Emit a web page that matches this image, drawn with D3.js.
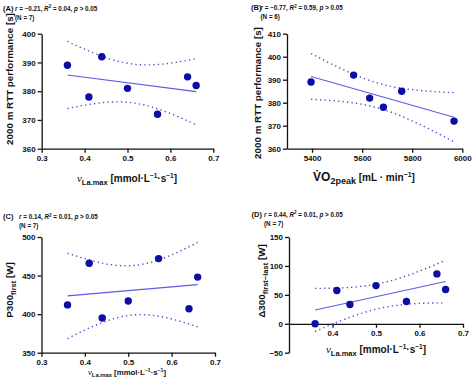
<!DOCTYPE html>
<html><head><meta charset="utf-8">
<script src="https://cdn.jsdelivr.net/npm/d3@7"></script>
<style>
html,body{margin:0;padding:0;background:#fff;}
svg{display:block;font-family:"Liberation Sans",Arial,sans-serif;}
</style></head>
<body>
<script>
// ---- data ----
const vLaMax   = [0.36, 0.41, 0.44, 0.50, 0.57, 0.64, 0.66];
const rttA     = [389, 378, 392, 381, 372, 385, 382];
const vo2peak  = [5396, 5566, 5630, 5685, 5758, 5967];
const rttB     = [389, 392, 382, 378, 385, 372];
const p300first = [412, 466, 395, 417, 472, 407, 448];
const delta300 = [0, 57.6, 33.3, 66, 38.5, 86.2, 59.2];

const vTicks    = [0.3, 0.4, 0.5, 0.6, 0.7];
const vTicksD   = [0.4, 0.5, 0.6, 0.7];
const vo2Ticks  = [5400, 5600, 5800, 6000];
const rttTicksA = [360, 370, 380, 390, 400];
const rttTicksB = [360, 370, 380, 390, 400, 410];
const p300Ticks = [350, 400, 450, 500];
const deltaTicks = [-50, 0, 50, 100, 150];

const statsA = ["(A)", "−0.21", "0.04", "(N = 7)"];
const statsB = ["(B)", "−0.77", "0.59", "(N = 6)"];
const statsC = ["(C)", "0.14", "0.01", "(N = 7)"];
const statsD = ["(D)", "0.44", "0.01", "(N = 7)"];

// t critical values (95%, two-sided) for df = n-2
const tCrit = {4: 2.776, 5: 2.571};

const W = 474, H = 379;
const svg = d3.select("body").append("svg").attr("width", W).attr("height", H);

const markerColor = "#0c0ca6", lineColor = "#5b5bea", bandColor = "#4b4bc6";

function panel(cfg) {
  const g = svg.append("g");
  const x = d3.scaleLinear().domain(cfg.xDomain).range(cfg.xRange);
  const y = d3.scaleLinear().domain(cfg.yDomain).range(cfg.yRange);
  const xAxisY = cfg.xAxisAt != null ? y(cfg.xAxisAt) : cfg.yRange[0];

  const xa = g.append("g").attr("transform", `translate(0,${xAxisY})`)
    .call(d3.axisBottom(x).tickValues(cfg.xTicks).tickSize(4).tickSizeOuter(0).tickPadding(3)
      .tickFormat(d3.format(cfg.xFmt)));
  const ya = g.append("g").attr("transform", `translate(${cfg.xRange[0]},0)`)
    .call(d3.axisLeft(y).tickValues(cfg.yTicks).tickSize(4).tickSizeOuter(0).tickPadding(2));
  [xa, ya].forEach(a => {
    a.selectAll("path,line").attr("stroke", "#111").attr("stroke-width", 1.3);
    a.selectAll("text").attr("font-size", 8).attr("font-weight", "bold").attr("fill", "#111")
      .attr("font-family", "'Liberation Sans',Arial,sans-serif");
  });

  // regression + 95% CI
  const xs = cfg.xs, ys = cfg.ys, n = xs.length;
  const mx = d3.mean(xs), my = d3.mean(ys);
  const Sxx = d3.sum(xs, v => (v - mx) ** 2);
  const Sxy = d3.sum(xs, (v, i) => (v - mx) * (ys[i] - my));
  const b = Sxy / Sxx, a = my - b * mx;
  const sse = d3.sum(xs, (v, i) => (ys[i] - a - b * v) ** 2);
  const s = Math.sqrt(sse / (n - 2));
  const t = tCrit[n - 2];
  const xmin = d3.min(xs), xmax = d3.max(xs);
  const samples = d3.range(41).map(i => xmin + (xmax - xmin) * i / 40);
  const half = v => t * s * Math.sqrt(1 / n + (v - mx) ** 2 / Sxx);

  const band = sgn => d3.line().x(v => x(v)).y(v => y(a + b * v + sgn * half(v)))(samples);
  [1, -1].forEach(sgn => g.append("path").attr("d", band(sgn)).attr("fill", "none")
    .attr("stroke", bandColor).attr("stroke-width", 1.4).attr("stroke-dasharray", "1.3,3.2"));

  g.append("line").attr("x1", x(xmin)).attr("x2", x(xmax))
    .attr("y1", y(a + b * xmin)).attr("y2", y(a + b * xmax))
    .attr("stroke", lineColor).attr("stroke-width", 1.1);

  g.selectAll("circle.pt").data(xs).join("circle").attr("class", "pt")
    .attr("cx", d => x(d)).attr("cy", (d, i) => y(ys[i])).attr("r", 3.7)
    .attr("fill", markerColor);

  // header
  const st = cfg.stats;
  g.append("text").attr("x", cfg.hx).attr("y", cfg.hy).attr("font-size", 7.5)
    .attr("font-weight", "bold").attr("fill", "#111").text(st[0]);
  const h = g.append("text").attr("x", cfg.hx2).attr("y", cfg.hy).attr("font-size", 6.3)
    .attr("font-weight", "bold").attr("fill", "#111");
  h.append("tspan").attr("font-style", "italic").text("r");
  h.append("tspan").text(" = " + st[1] + ", ");
  h.append("tspan").attr("font-style", "italic").text("R");
  h.append("tspan").attr("font-size", 4.5).attr("dy", -2.5).text("2");
  h.append("tspan").attr("dy", 2.5).text(" = " + st[2] + ", ");
  h.append("tspan").attr("font-style", "italic").text("p");
  h.append("tspan").text(" > 0.05");
  g.append("text").attr("x", cfg.hx2).attr("y", cfg.hy + 9).attr("font-size", 6.3)
    .attr("font-weight", "bold").attr("fill", "#111").text(st[3]);

  // y title
  const yt = g.append("text").attr("transform", `translate(${cfg.ytx},${cfg.yty}) rotate(-90)`)
    .attr("text-anchor", "middle").attr("font-size", cfg.ytSize).attr("font-weight", "bold").attr("fill", "#111");
  cfg.yTitle(yt);
  // x title
  const k = cfg.xtScale || 1;
  const xt = g.append("text").attr("x", cfg.xtx).attr("y", cfg.xty)
    .attr("text-anchor", "middle").attr("font-size", 10 * k).attr("font-weight", "bold").attr("fill", "#111");
  cfg.xTitle(xt, k);
}

function vTitle(t, k) {
  t.append("tspan").attr("font-family", "'Liberation Serif','Times New Roman',serif")
    .attr("font-style", "italic").attr("font-weight", "normal").attr("font-size", 11 * k).text("v");
  t.append("tspan").attr("font-size", 7.5 * k).attr("dy", 2.5 * k).text("La.max");
  t.append("tspan").attr("dy", -2.5 * k).text(" [mmol·L");
  t.append("tspan").attr("font-size", 6.5 * k).attr("dy", -4 * k).text("−1");
  t.append("tspan").attr("dy", 4 * k).text("·s");
  t.append("tspan").attr("font-size", 6.5 * k).attr("dy", -4 * k).text("−1");
  t.append("tspan").attr("dy", 4 * k).text("]");
}
function vo2Title(t) {
  t.append("tspan").attr("font-size", 12).text("V\u0307O");
  t.append("tspan").attr("font-size", 9).attr("dy", 2.5).text("2peak");
  t.append("tspan").attr("dy", -2.5).attr("font-size", 10).text(" [mL · min");
  t.append("tspan").attr("font-size", 7).attr("dy", -4).text("−1");
  t.append("tspan").attr("dy", 4).attr("font-size", 10).text("]");
}
function rttTitle(t) { t.text("2000 m RTT performance [s]"); }
function p300Title(t) {
  t.append("tspan").text("P300");
  t.append("tspan").attr("font-size", 7.5).attr("dy", 2.5).text("first");
  t.append("tspan").attr("dy", -2.5).text(" [W]");
}
function deltaTitle(t) {
  t.append("tspan").text("Δ300");
  t.append("tspan").attr("font-size", 7.5).attr("dy", 2.5).text("first−last");
  t.append("tspan").attr("dy", -2.5).text(" [W]");
}

panel({xDomain: [0.3, 0.7], yDomain: [360, 400], xRange: [41.7, 213.3], yRange: [148.7, 33.7],
  xTicks: vTicks, yTicks: rttTicksA, xFmt: ".1f", xs: vLaMax, ys: rttA, stats: statsA,
  hx: 3, hx2: 15, hy: 10.5, ytx: 13, yty: 79, ytSize: 9.8, yTitle: rttTitle,
  xtx: 127, xty: 182, xTitle: vTitle});

panel({xDomain: [5300, 6000], yDomain: [360, 410], xRange: [287, 462.3], yRange: [148.7, 33.7],
  xTicks: vo2Ticks, yTicks: rttTicksB, xFmt: "d", xs: vo2peak, ys: rttB, stats: statsB,
  hx: 251, hx2: 260.5, hy: 10, ytx: 261, yty: 93, ytSize: 9.8, yTitle: rttTitle,
  xtx: 364, xty: 181, xTitle: vo2Title});

panel({xDomain: [0.3, 0.7], yDomain: [350, 500], xRange: [41.5, 215], yRange: [352.7, 237],
  xTicks: vTicks, yTicks: p300Ticks, xFmt: ".1f", xs: vLaMax, ys: p300first, stats: statsC,
  hx: 3, hx2: 19, hy: 219, ytx: 13, yty: 290, ytSize: 9.8, yTitle: p300Title,
  xtx: 127, xty: 374.8, xtScale: 0.78, xTitle: vTitle});

panel({xDomain: [0.3, 0.7], yDomain: [-50, 150], xRange: [289, 463], yRange: [352.7, 237],
  xTicks: vTicksD, yTicks: deltaTicks, xFmt: ".1f", xs: vLaMax, ys: delta300, stats: statsD,
  hx: 251.5, hx2: 264, hy: 216.5, xAxisAt: 0, ytx: 265, yty: 281, ytSize: 9.8, yTitle: deltaTitle,
  xtx: 376, xty: 353, xTitle: vTitle});
</script>
</body></html>
